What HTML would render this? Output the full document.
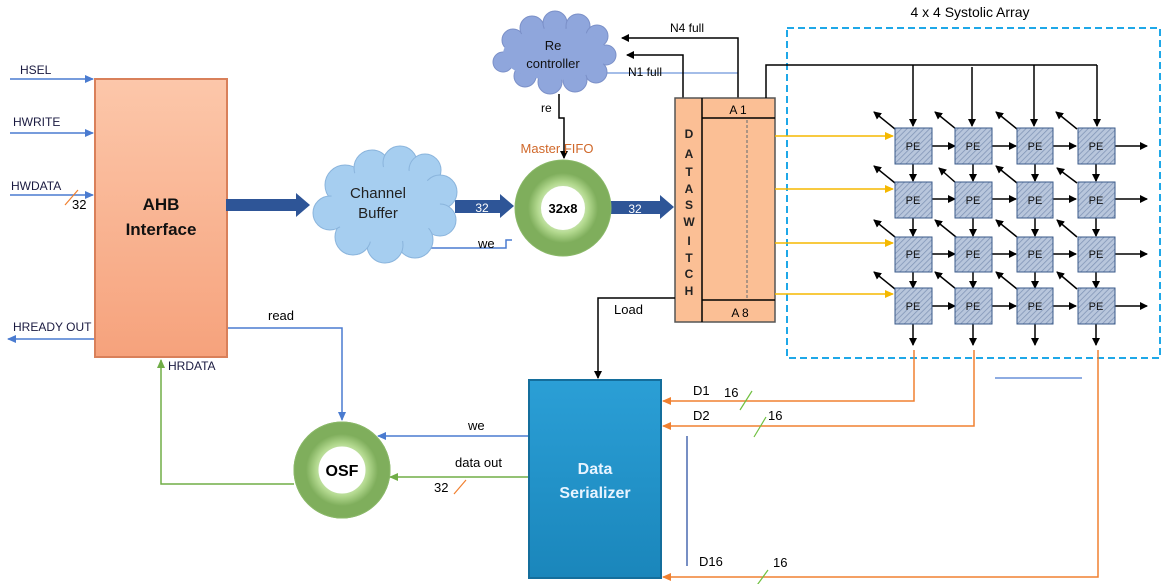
<!DOCTYPE html>
<html><head><meta charset="utf-8"><style>
html,body{margin:0;padding:0;background:#fff;}
svg{display:block;font-family:"Liberation Sans","DejaVu Sans",sans-serif;}
</style></head><body>
<svg width="1164" height="584" viewBox="0 0 1164 584" xmlns="http://www.w3.org/2000/svg">
<defs>
<marker id="ab" markerWidth="8" markerHeight="8" refX="7" refY="4" orient="auto" markerUnits="userSpaceOnUse"><path d="M0,0 L8,4 L0,8 z" fill="#000"/></marker>
<marker id="abl" markerWidth="9" markerHeight="8" refX="8" refY="4" orient="auto" markerUnits="userSpaceOnUse"><path d="M0,0 L9,4 L0,8 z" fill="#4a7bd0"/></marker>
<marker id="ag" markerWidth="9" markerHeight="8" refX="8" refY="4" orient="auto" markerUnits="userSpaceOnUse"><path d="M0,0 L9,4 L0,8 z" fill="#70ad47"/></marker>
<marker id="ao" markerWidth="9" markerHeight="8" refX="8" refY="4" orient="auto" markerUnits="userSpaceOnUse"><path d="M0,0 L9,4 L0,8 z" fill="#f08030"/></marker>
<marker id="ay" markerWidth="9" markerHeight="8" refX="8" refY="4" orient="auto" markerUnits="userSpaceOnUse"><path d="M0,0 L9,4 L0,8 z" fill="#f5b800"/></marker>
<linearGradient id="sal" x1="0" y1="0" x2="0" y2="1"><stop offset="0" stop-color="#fcc7aa"/><stop offset="1" stop-color="#f6a27c"/></linearGradient>
<linearGradient id="blu" x1="0" y1="0" x2="0" y2="1"><stop offset="0" stop-color="#2b9fd6"/><stop offset="1" stop-color="#1a86bb"/></linearGradient>
<pattern id="hatch" width="4" height="4" patternUnits="userSpaceOnUse" patternTransform="rotate(45)"><rect width="4" height="4" fill="#b8c6dc"/><line x1="0" y1="0" x2="0" y2="4" stroke="#7f93b5" stroke-width="1.5"/></pattern>
<radialGradient id="tor" cx="0.5" cy="0.5" r="0.5"><stop offset="0.45" stop-color="#ddf0cc"/><stop offset="0.72" stop-color="#b3d98f"/><stop offset="1" stop-color="#7fae5c"/></radialGradient>
</defs>

<!-- inputs -->
<g stroke="#4a7bd0" stroke-width="1.5" fill="none">
<line x1="10" y1="79" x2="93" y2="79" marker-end="url(#abl)"/>
<line x1="10" y1="133" x2="93" y2="133" marker-end="url(#abl)"/>
<line x1="10" y1="195" x2="93" y2="195" marker-end="url(#abl)"/>
<line x1="95" y1="339" x2="8" y2="339" marker-end="url(#abl)"/>
<polyline points="226,296 226,328 342,328 342,420" marker-end="url(#abl)"/>
<polyline points="425,248 506,248 506,240 512,240"/>
<line x1="528" y1="436" x2="378" y2="436" marker-end="url(#abl)"/>
<line x1="605" y1="73" x2="738" y2="73" stroke-width="1"/>
<line x1="687" y1="436" x2="687" y2="566" stroke-width="1.5" stroke="#4a6ab0"/>
<line x1="995" y1="378" x2="1082" y2="378" stroke-width="1.2"/>
</g>
<line x1="65" y1="205" x2="78" y2="190" stroke="#f08030" stroke-width="1.2"/>
<g font-size="12" fill="#1a1a40">
<text x="20" y="74">HSEL</text><text x="13" y="126">HWRITE</text><text x="11" y="190">HWDATA</text>
<text x="72" y="209" font-size="13" fill="#000">32</text>
<text x="13" y="331">HREADY OUT</text><text x="168" y="370">HRDATA</text>
</g>

<!-- AHB -->
<rect x="95" y="79" width="132" height="278" fill="url(#sal)" stroke="#d9805a" stroke-width="2"/>
<text x="161" y="210" font-size="17" font-weight="bold" text-anchor="middle" fill="#111">AHB</text>
<text x="161" y="235" font-size="17" font-weight="bold" text-anchor="middle" fill="#111">Interface</text>

<!-- big arrows -->
<path d="M226,199 H296 V193 L310,205 L296,217 V211 H226 z" fill="#2e5597"/>
<path d="M455,200 H500 V194 L514,206 L500,218 V213 H455 z" fill="#2e5597"/>
<text x="482" y="212" font-size="12" fill="#fff" text-anchor="middle">32</text>
<path d="M605,201 H660 V195 L674,207 L660,219 V214 H605 z" fill="#2e5597"/>
<text x="635" y="213" font-size="12" fill="#fff" text-anchor="middle">32</text>

<!-- channel buffer cloud -->
<g fill="#a6cef0" stroke="#8ab4dc" stroke-width="1">
<circle cx="345" cy="185" r="20"/><circle cx="372" cy="168" r="18"/><circle cx="400" cy="163" r="17"/><circle cx="425" cy="170" r="16"/><circle cx="440" cy="192" r="17"/><circle cx="440" cy="220" r="16"/><circle cx="415" cy="240" r="18"/><circle cx="385" cy="245" r="18"/><circle cx="353" cy="237" r="18"/><circle cx="330" cy="213" r="17"/>
<ellipse cx="385" cy="205" rx="55" ry="38" stroke="none"/>
</g>
<text x="378" y="198" font-size="15" text-anchor="middle" fill="#222">Channel</text>
<text x="378" y="218" font-size="15" text-anchor="middle" fill="#222">Buffer</text>
<text x="478" y="248" font-size="13" fill="#000">we</text>

<!-- Re controller cloud -->
<g fill="#8fa6dc" stroke="#7b90c8" stroke-width="1">
<circle cx="513" cy="40" r="11"/><circle cx="532" cy="28" r="12"/><circle cx="555" cy="23" r="12"/><circle cx="578" cy="26" r="12"/><circle cx="597" cy="36" r="11"/><circle cx="606" cy="55" r="10"/><circle cx="596" cy="72" r="11"/><circle cx="575" cy="80" r="12"/><circle cx="550" cy="82" r="12"/><circle cx="525" cy="76" r="11"/><circle cx="503" cy="62" r="10"/>
<ellipse cx="555" cy="54" rx="52" ry="26" stroke="none"/>
</g>
<text x="553" y="50" font-size="13" text-anchor="middle" fill="#111">Re</text>
<text x="553" y="68" font-size="13" text-anchor="middle" fill="#111">controller</text>
<polyline points="559,94 559,118 564,118 564,158" fill="none" stroke="#000" stroke-width="1.5" marker-end="url(#ab)"/>
<text x="541" y="112" font-size="12" fill="#000">re</text>
<text x="557" y="153" font-size="13" fill="#d0682a" text-anchor="middle">Master FIFO</text>

<!-- master FIFO torus -->
<circle cx="563" cy="208" r="35" fill="none" stroke="url(#tor)" stroke-width="26"/>
<circle cx="563" cy="208" r="48" fill="none" stroke="#8ab868" stroke-width="1"/>
<text x="563" y="213" font-size="13" font-weight="bold" text-anchor="middle">32x8</text>

<!-- N4/N1 full -->
<polyline points="738,98 738,38 622,38" fill="none" stroke="#000" stroke-width="1.5" marker-end="url(#ab)"/>
<polyline points="683,98 683,55 627,55" fill="none" stroke="#000" stroke-width="1.5" marker-end="url(#ab)"/>
<text x="670" y="32" font-size="12">N4 full</text>
<text x="628" y="76" font-size="12">N1 full</text>

<!-- data switch -->
<rect x="675" y="98" width="100" height="224" fill="#fbbf95" stroke="#555" stroke-width="1.5"/>
<line x1="702" y1="98" x2="702" y2="322" stroke="#000" stroke-width="1.5"/>
<line x1="702" y1="118" x2="775" y2="118" stroke="#000" stroke-width="1.5"/>
<line x1="702" y1="300" x2="775" y2="300" stroke="#000" stroke-width="1.5"/>
<line x1="747" y1="120" x2="747" y2="298" stroke="#777" stroke-width="1.2" stroke-dasharray="3,2"/>
<text x="738" y="114" font-size="12" text-anchor="middle">A 1</text>
<text x="740" y="317" font-size="12" text-anchor="middle">A 8</text>
<g font-size="12" font-weight="bold" text-anchor="middle" fill="#222">
<text x="689" y="138">D</text><text x="689" y="158">A</text><text x="689" y="176">T</text><text x="689" y="193">A</text><text x="689" y="209">S</text><text x="689" y="226">W</text><text x="689" y="245">I</text><text x="689" y="262">T</text><text x="689" y="278">C</text><text x="689" y="295">H</text>
</g>

<!-- Load -->
<polyline points="675,298 598,298 598,378" fill="none" stroke="#000" stroke-width="1.5" marker-end="url(#ab)"/>
<text x="614" y="314" font-size="13">Load</text>

<!-- systolic array -->
<rect x="787" y="28" width="373" height="330" fill="none" stroke="#1fa8e8" stroke-width="2" stroke-dasharray="7,4"/>
<text x="970" y="17" font-size="14" text-anchor="middle">4 x 4 Systolic Array</text>
<polyline points="766,98 766,65 1097,65" fill="none" stroke="#000" stroke-width="1.5"/>
<g stroke="#000" stroke-width="1.5" fill="none">
<line x1="913" y1="65" x2="913" y2="126" marker-end="url(#ab)"/>
<line x1="972" y1="67" x2="972" y2="126" marker-end="url(#ab)"/>
<line x1="1034" y1="65" x2="1034" y2="126" marker-end="url(#ab)"/>
<line x1="1097" y1="65" x2="1097" y2="126" marker-end="url(#ab)"/>
</g>
<g stroke="#f5b800" stroke-width="1.5">
<line x1="775" y1="136" x2="893" y2="136" marker-end="url(#ay)"/>
<line x1="775" y1="189" x2="893" y2="189" marker-end="url(#ay)"/>
<line x1="775" y1="243" x2="893" y2="243" marker-end="url(#ay)"/>
<line x1="775" y1="294" x2="893" y2="294" marker-end="url(#ay)"/>
</g>
<g stroke="#000" stroke-width="1.5" fill="none">
<line x1="932" y1="146" x2="955" y2="146" marker-end="url(#ab)"/><line x1="992" y1="146" x2="1016" y2="146" marker-end="url(#ab)"/><line x1="1053" y1="146" x2="1076" y2="146" marker-end="url(#ab)"/><line x1="1115" y1="146" x2="1147" y2="146" marker-end="url(#ab)"/>
<line x1="932" y1="199" x2="955" y2="199" marker-end="url(#ab)"/><line x1="992" y1="199" x2="1016" y2="199" marker-end="url(#ab)"/><line x1="1053" y1="199" x2="1076" y2="199" marker-end="url(#ab)"/><line x1="1115" y1="199" x2="1147" y2="199" marker-end="url(#ab)"/>
<line x1="932" y1="254" x2="955" y2="254" marker-end="url(#ab)"/><line x1="992" y1="254" x2="1016" y2="254" marker-end="url(#ab)"/><line x1="1053" y1="254" x2="1076" y2="254" marker-end="url(#ab)"/><line x1="1115" y1="254" x2="1147" y2="254" marker-end="url(#ab)"/>
<line x1="932" y1="306" x2="955" y2="306" marker-end="url(#ab)"/><line x1="992" y1="306" x2="1016" y2="306" marker-end="url(#ab)"/><line x1="1053" y1="306" x2="1076" y2="306" marker-end="url(#ab)"/><line x1="1115" y1="306" x2="1147" y2="306" marker-end="url(#ab)"/>
<line x1="913" y1="164" x2="913" y2="181" marker-end="url(#ab)"/><line x1="973" y1="164" x2="973" y2="181" marker-end="url(#ab)"/><line x1="1035" y1="164" x2="1035" y2="181" marker-end="url(#ab)"/><line x1="1096" y1="164" x2="1096" y2="181" marker-end="url(#ab)"/>
<line x1="913" y1="218" x2="913" y2="236" marker-end="url(#ab)"/><line x1="973" y1="218" x2="973" y2="236" marker-end="url(#ab)"/><line x1="1035" y1="218" x2="1035" y2="236" marker-end="url(#ab)"/><line x1="1096" y1="218" x2="1096" y2="236" marker-end="url(#ab)"/>
<line x1="913" y1="272" x2="913" y2="288" marker-end="url(#ab)"/><line x1="973" y1="272" x2="973" y2="288" marker-end="url(#ab)"/><line x1="1035" y1="272" x2="1035" y2="288" marker-end="url(#ab)"/><line x1="1096" y1="272" x2="1096" y2="288" marker-end="url(#ab)"/>
<line x1="913" y1="324" x2="913" y2="345" marker-end="url(#ab)"/><line x1="973" y1="324" x2="973" y2="345" marker-end="url(#ab)"/><line x1="1035" y1="324" x2="1035" y2="345" marker-end="url(#ab)"/><line x1="1096" y1="324" x2="1096" y2="345" marker-end="url(#ab)"/>
<line x1="895" y1="129" x2="874" y2="112" marker-end="url(#ab)"/><line x1="956" y1="129" x2="935" y2="112" marker-end="url(#ab)"/><line x1="1017" y1="129" x2="996" y2="112" marker-end="url(#ab)"/><line x1="1077" y1="129" x2="1056" y2="112" marker-end="url(#ab)"/>
<line x1="895" y1="183" x2="874" y2="166" marker-end="url(#ab)"/><line x1="956" y1="183" x2="939" y2="168" marker-end="url(#ab)"/><line x1="1017" y1="183" x2="996" y2="166" marker-end="url(#ab)"/><line x1="1077" y1="183" x2="1057" y2="168" marker-end="url(#ab)"/>
<line x1="895" y1="237" x2="874" y2="220" marker-end="url(#ab)"/><line x1="956" y1="237" x2="935" y2="220" marker-end="url(#ab)"/><line x1="1017" y1="237" x2="996" y2="220" marker-end="url(#ab)"/><line x1="1077" y1="237" x2="1057" y2="220" marker-end="url(#ab)"/>
<line x1="895" y1="289" x2="874" y2="272" marker-end="url(#ab)"/><line x1="956" y1="289" x2="935" y2="272" marker-end="url(#ab)"/><line x1="1017" y1="289" x2="996" y2="272" marker-end="url(#ab)"/><line x1="1077" y1="289" x2="1057" y2="272" marker-end="url(#ab)"/>
</g>
<g stroke="#3a5a8a" stroke-width="1" fill="url(#hatch)">
<rect x="895" y="128" width="37" height="36"/><rect x="955" y="128" width="37" height="36"/><rect x="1017" y="128" width="36" height="36"/><rect x="1078" y="128" width="37" height="36"/>
<rect x="895" y="182" width="37" height="36"/><rect x="955" y="182" width="37" height="36"/><rect x="1017" y="182" width="36" height="36"/><rect x="1078" y="182" width="37" height="36"/>
<rect x="895" y="237" width="37" height="35"/><rect x="955" y="237" width="37" height="35"/><rect x="1017" y="237" width="36" height="35"/><rect x="1078" y="237" width="37" height="35"/>
<rect x="895" y="288" width="37" height="36"/><rect x="955" y="288" width="37" height="36"/><rect x="1017" y="288" width="36" height="36"/><rect x="1078" y="288" width="37" height="36"/>
</g>
<g font-size="11" text-anchor="middle" fill="#111">
<text x="913" y="150">PE</text><text x="973" y="150">PE</text><text x="1035" y="150">PE</text><text x="1096" y="150">PE</text>
<text x="913" y="204">PE</text><text x="973" y="204">PE</text><text x="1035" y="204">PE</text><text x="1096" y="204">PE</text>
<text x="913" y="258">PE</text><text x="973" y="258">PE</text><text x="1035" y="258">PE</text><text x="1096" y="258">PE</text>
<text x="913" y="310">PE</text><text x="973" y="310">PE</text><text x="1035" y="310">PE</text><text x="1096" y="310">PE</text>
</g>

<!-- orange D lines -->
<g stroke="#f08030" stroke-width="1.5" fill="none">
<polyline points="914,350 914,401 663,401" marker-end="url(#ao)"/>
<polyline points="974,350 974,426 663,426" marker-end="url(#ao)"/>
<polyline points="1098,350 1098,577 663,577" marker-end="url(#ao)"/>
</g>
<g stroke="#70c040" stroke-width="1.2">
<line x1="740" y1="410" x2="752" y2="391"/><line x1="754" y1="437" x2="766" y2="417"/><line x1="755" y1="588" x2="768" y2="570"/>
</g>
<g font-size="13" fill="#000">
<text x="693" y="395">D1</text><text x="724" y="397">16</text>
<text x="693" y="420">D2</text><text x="768" y="420">16</text>
<text x="699" y="566">D16</text><text x="773" y="567">16</text>
</g>

<!-- data serializer -->
<rect x="529" y="380" width="132" height="198" fill="url(#blu)" stroke="#146e9c" stroke-width="2"/>
<text x="595" y="474" font-size="16" font-weight="bold" fill="#e8f4ff" text-anchor="middle">Data</text>
<text x="595" y="498" font-size="16" font-weight="bold" fill="#e8f4ff" text-anchor="middle">Serializer</text>

<!-- OSF -->
<circle cx="342" cy="470" r="36" fill="none" stroke="url(#tor)" stroke-width="25"/>
<circle cx="342" cy="470" r="48" fill="none" stroke="#8ab868" stroke-width="1"/>
<text x="342" y="476" font-size="16" font-weight="bold" text-anchor="middle">OSF</text>
<text x="468" y="430" font-size="13">we</text>
<line x1="528" y1="477" x2="390" y2="477" stroke="#70ad47" stroke-width="1.5" marker-end="url(#ag)"/>
<text x="455" y="467" font-size="13">data out</text>
<text x="434" y="492" font-size="13">32</text>
<line x1="454" y1="494" x2="466" y2="480" stroke="#f08030" stroke-width="1.2"/>
<polyline points="294,484 161,484 161,360" fill="none" stroke="#70ad47" stroke-width="1.5" marker-end="url(#ag)"/>
<text x="268" y="320" font-size="13">read</text>
</svg>
</body></html>
